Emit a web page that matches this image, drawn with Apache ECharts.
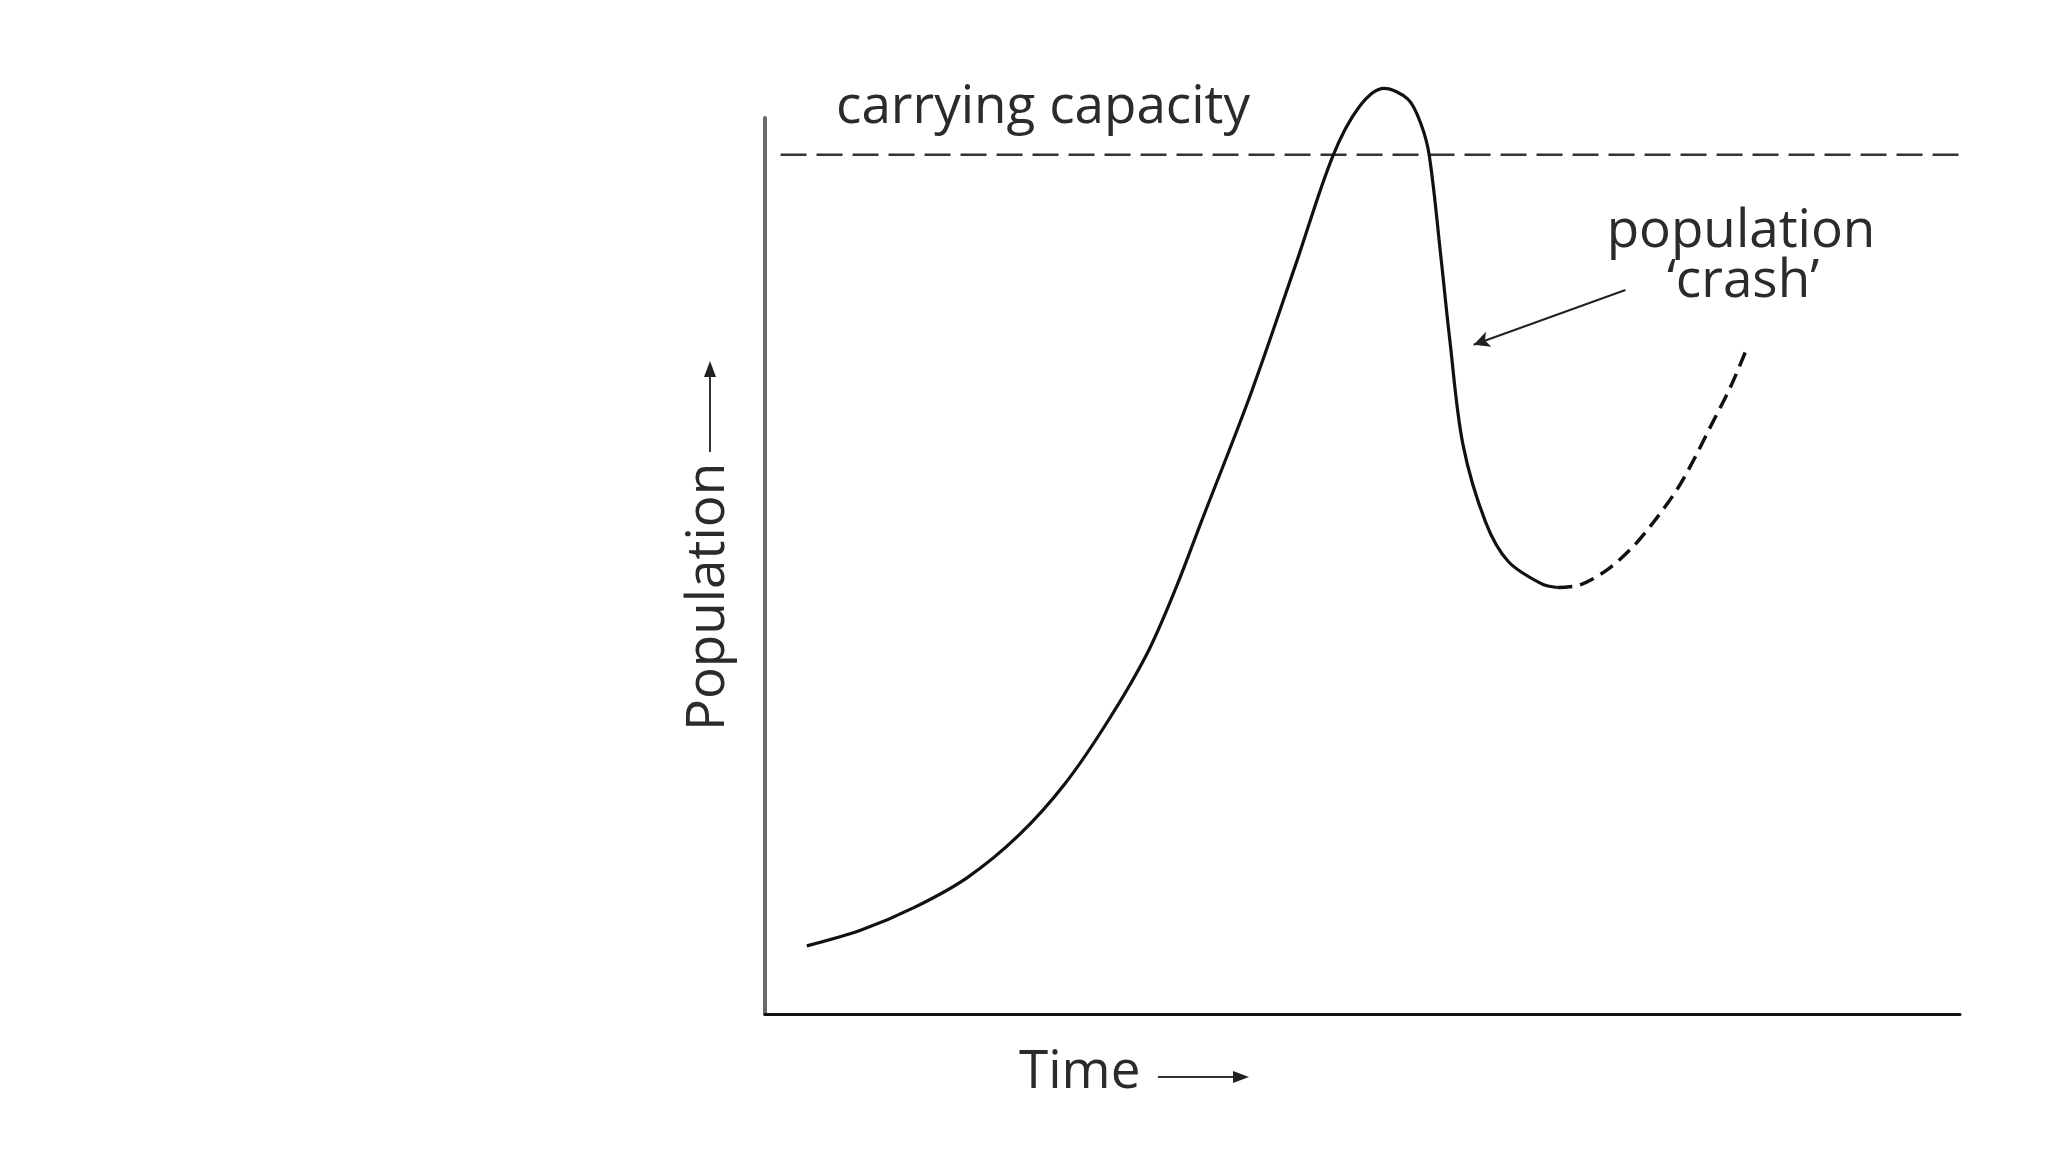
<!DOCTYPE html>
<html>
<head>
<meta charset="utf-8">
<script src="https://cdn.jsdelivr.net/npm/echarts@6/dist/echarts.min.js"></script>
<style>
html,body{margin:0;padding:0;background:#fff;}
#chart{width:2048px;height:1152px;}
</style>
</head>
<body>
<div id="chart"></div>
<script>
// Growth curve (solid part): time, population (arbitrary units, axis 0..100)
const growthTime = [3.5, 8.1, 12.5, 16.9, 21.2, 25.1, 28.7, 32.0, 34.4, 36.5, 40.7, 44.5, 47.5, 49.7, 51.8, 53.8, 54.9, 55.6, 56.6, 57.3, 58.4, 60.3, 62.2, 65.0, 66.3];
const growthPop  = [7.6, 9.4, 11.9, 15.2, 19.9, 25.7, 32.7, 40.3, 47.6, 54.9, 69.4, 84.0, 95.7, 101.2, 103.3, 102.1, 99.3, 95.7, 84.0, 75.3, 63.6, 54.9, 50.5, 48.0, 47.6];
// Recovery curve (dashed part)
const recoveryTime = [66.3, 68.2, 70.5, 72.6, 74.3, 76.3, 77.7, 79.1, 80.8, 82.2];
const recoveryPop  = [47.6, 47.9, 49.6, 52.1, 54.8, 58.5, 61.8, 65.5, 70.0, 74.4];
// Carrying capacity level
const capacityLevel = 95.9;
const capacitySpan = [1.3, 100.3];
// "population crash" pointer: from label to curve
const pointerFrom = [72.0, 80.8];
const pointerTo = [59.3, 74.7];
// Texts
const capacityLabel = 'carrying capacity';
const crashLabel = ['population', '\u2018crash\u2019'];
const xName = 'Time';
const yName = 'Population';

const zip = (a, b) => a.map((v, i) => [v, b[i]]);
const FONT = '53px "Open Sans"';
const TXT = '#2b2b2b';

const chart = echarts.init(document.getElementById('chart'), null, {renderer: 'canvas'});
chart.setOption({
  backgroundColor: '#ffffff',
  animation: false,
  grid: {left: 765, right: 88, top: 118, bottom: 138, containLabel: false},
  xAxis: {
    type: 'value', min: 0, max: 100,
    axisLine: {show: true, onZero: false, lineStyle: {color: '#111', width: 3}},
    axisTick: {show: false}, axisLabel: {show: false}, splitLine: {show: false}
  },
  yAxis: {
    type: 'value', min: 0, max: 100,
    axisLine: {show: true, onZero: false, lineStyle: {color: '#6a6a6a', width: 4}},
    axisTick: {show: false}, axisLabel: {show: false}, splitLine: {show: false}
  },
  series: [
    {
      type: 'line', name: 'capacity', clip: false, silent: true,
      data: capacitySpan.map(x => [x, capacityLevel]),
      symbol: 'none',
      lineStyle: {color: '#333', width: 2.5, type: [26, 10]}
    },
    {
      type: 'line', name: 'growth', clip: false, smooth: 0.33,
      data: zip(growthTime, growthPop),
      symbol: 'none',
      lineStyle: {color: '#111', width: 3.2}
    },
    {
      type: 'line', name: 'recovery', clip: false, smooth: 0.33,
      data: zip(recoveryTime, recoveryPop),
      symbol: 'none',
      lineStyle: {color: '#111', width: 3.5, type: [15, 8]},
      markLine: {
        silent: true,
        symbol: ['none', 'arrow'],
        symbolSize: [12, 16],
        label: {show: false},
        lineStyle: {color: '#222', width: 2, type: 'solid'},
        data: [[{coord: pointerFrom}, {coord: pointerTo}]]
      }
    }
  ],
  graphic: [
    {type: 'text', x: 836, y: 108, style: {text: capacityLabel, font: FONT, fill: TXT, textAlign: 'left', align: 'left', textVerticalAlign: 'middle', verticalAlign: 'middle'}},
    {type: 'text', x: 1741, y: 232, style: {text: crashLabel[0], font: FONT, fill: TXT, textAlign: 'center', align: 'center', textVerticalAlign: 'middle', verticalAlign: 'middle'}},
    {type: 'text', x: 1743, y: 282, style: {text: crashLabel[1], font: FONT, fill: TXT, textAlign: 'center', align: 'center', textVerticalAlign: 'middle', verticalAlign: 'middle'}},
    {type: 'text', x: 1019, y: 1073, style: {text: xName, font: FONT, fill: TXT, textAlign: 'left', align: 'left', textVerticalAlign: 'middle', verticalAlign: 'middle'}},
    {type: 'line', shape: {x1: 1158, y1: 1077, x2: 1236, y2: 1077}, style: {stroke: '#333', lineWidth: 2}},
    {type: 'polygon', shape: {points: [[1249, 1077], [1233, 1071], [1233, 1083]]}, style: {fill: '#222'}},
    {type: 'text', x: 709, y: 731, rotation: Math.PI / 2, style: {text: yName, font: FONT, fill: TXT, textAlign: 'left', align: 'left', textVerticalAlign: 'middle', verticalAlign: 'middle'}},
    {type: 'line', shape: {x1: 710, y1: 452, x2: 710, y2: 374}, style: {stroke: '#333', lineWidth: 2}},
    {type: 'polygon', shape: {points: [[710, 361], [704, 377], [716, 377]]}, style: {fill: '#222'}}
  ]
});
</script>
</body>
</html>
